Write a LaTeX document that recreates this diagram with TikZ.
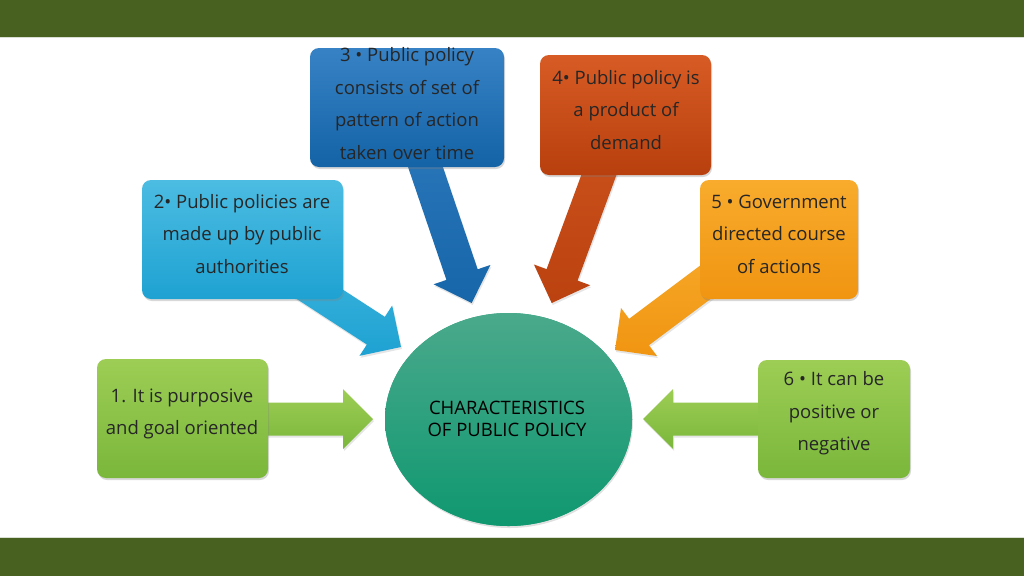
\documentclass[tikz,border=0pt]{standalone}
\usepackage{fontspec}
\setmainfont{Open Sans}
\usetikzlibrary{calc,shapes.geometric,shadows}
\definecolor{barcol}{HTML}{486121}
\definecolor{grA}{HTML}{9DCD54}
\definecolor{grB}{HTML}{7AB73B}
\definecolor{cyA}{HTML}{4CBCE2}
\definecolor{cyB}{HTML}{1EA2D2}
\definecolor{blA}{HTML}{3782C5}
\definecolor{blB}{HTML}{1463A7}
\definecolor{rdA}{HTML}{D75B24}
\definecolor{rdB}{HTML}{B8400E}
\definecolor{orA}{HTML}{F8AB2C}
\definecolor{orB}{HTML}{F09512}
\definecolor{tlA}{HTML}{4AA98B}
\definecolor{tlB}{HTML}{0F9870}
\newcommand\fatarrow[3]{%
  \coordinate (fab) at ($(#2)!30pt!(#1)$);
  \path[#3] (#2) -- ($(fab)!30pt!90:(#2)$) -- ($(fab)!16.5pt!90:(#2)$)
    -- ($(#1)!16.5pt!90:(#2)$) -- ($(#1)!16.5pt!-90:(#2)$)
    -- ($(fab)!16.5pt!-90:(#2)$) -- ($(fab)!30pt!-90:(#2)$) -- cycle;}
\begin{document}
\begin{tikzpicture}[x=1pt,y=1pt,
  box/.style={rounded corners=9pt, inner sep=0pt,
    drop shadow={shadow xshift=1pt,shadow yshift=-2pt,opacity=0.3}},
  arr/.style={drop shadow={shadow xshift=1pt,shadow yshift=-2pt,opacity=0.2}},
  txt/.style={align=center, font=\fontsize{18.5}{32.5}\selectfont, text=black!85, inner sep=0pt},
  ctxt/.style={align=center, font=\fontsize{18.5}{22}\selectfont, text=black, inner sep=0pt}]
\useasboundingbox (0,0) rectangle (1024,-576);
\fill[white] (0,0) rectangle (1024,-576);
\fill[barcol] (0,0) rectangle (1024,-37);
\fill[barcol] (0,-538) rectangle (1024,-576);
\draw[barcol!20, line width=1pt] (0,-37.5) -- (1024,-37.5);
\draw[barcol!20, line width=1pt] (0,-537.5) -- (1024,-537.5);

% arrow end points
\coordinate (s1) at (200,-419);   \coordinate (e1) at (373,-419);
\coordinate (s6) at (820,-419);   \coordinate (e6) at (643,-419);
\coordinate (s2) at (250,-249);   \coordinate (e2) at (401,-347);
\coordinate (s3) at (407.3,-113.6); \coordinate (e3) at (471.7,-303);
\coordinate (s4) at (621,-115);   \coordinate (e4) at (551.7,-303);
\coordinate (s5) at (759,-242);   \coordinate (e5) at (615,-350);

\fatarrow{s1}{e1}{arr, top color=grA, bottom color=grB}
\fatarrow{s6}{e6}{arr, top color=grA, bottom color=grB}
\fatarrow{s2}{e2}{arr, top color=cyA!80!cyB, bottom color=cyB}
\fatarrow{s3}{e3}{arr, top color=blA!70!blB, bottom color=blB!90!blA}
\fatarrow{s4}{e4}{arr, top color=rdA!70!rdB, bottom color=rdB!90!rdA}
\fatarrow{s5}{e5}{arr, top color=orA, bottom color=orB}

% centre
\coordinate (cc) at (508.5,-419.5);
\fill[black, opacity=0.12] ($(cc)+(1,-2)$) ellipse [x radius=123.5, y radius=106.5];
\fill[tlB!70!tlA] (cc) ellipse [x radius=123.5, y radius=106.5];
\path[top color=tlA, bottom color=tlB] (cc) ellipse [x radius=123.5, y radius=106.5];
\node[ctxt] (ct) at (507,-419) {CHARACTERISTICS\\OF PUBLIC POLICY};

% boxes
\node[box, minimum width=171pt, minimum height=119pt, top color=grA, bottom color=grB] (b1) at (182.5,-418.5) {};
\node[box, minimum width=201pt, minimum height=119pt, top color=cyA, bottom color=cyB] (b2) at (242.5,-239.5) {};
\node[box, minimum width=194pt, minimum height=119pt, top color=blA, bottom color=blB] (b3) at (407,-107.5) {};
\node[box, minimum width=171pt, minimum height=120pt, top color=rdA, bottom color=rdB] (b4) at (625.5,-115) {};
\node[box, minimum width=158pt, minimum height=119pt, top color=orA, bottom color=orB] (b5) at (779,-239.5) {};
\node[box, minimum width=152pt, minimum height=118pt, top color=grA, bottom color=grB] (b6) at (834,-419) {};

\node[txt] (t1) at (182,-414) {1. It is purposive\\and goal oriented};
\node[txt] (t2) at (242,-234) {2• Public policies are\\made up by public\\authorities};
\node[txt] (t3) at (407,-103.5) {3 • Public policy\\consists of set of\\pattern of action\\taken over time};
\node[txt] (t4) at (626,-110) {4• Public policy is\\a product of\\demand};
\node[txt] (t5) at (779,-234) {5 • Government\\directed course\\of actions};
\node[txt] (t6) at (834,-413.5) {6 • It can be\\positive or\\negative};
\end{tikzpicture}
\end{document}
